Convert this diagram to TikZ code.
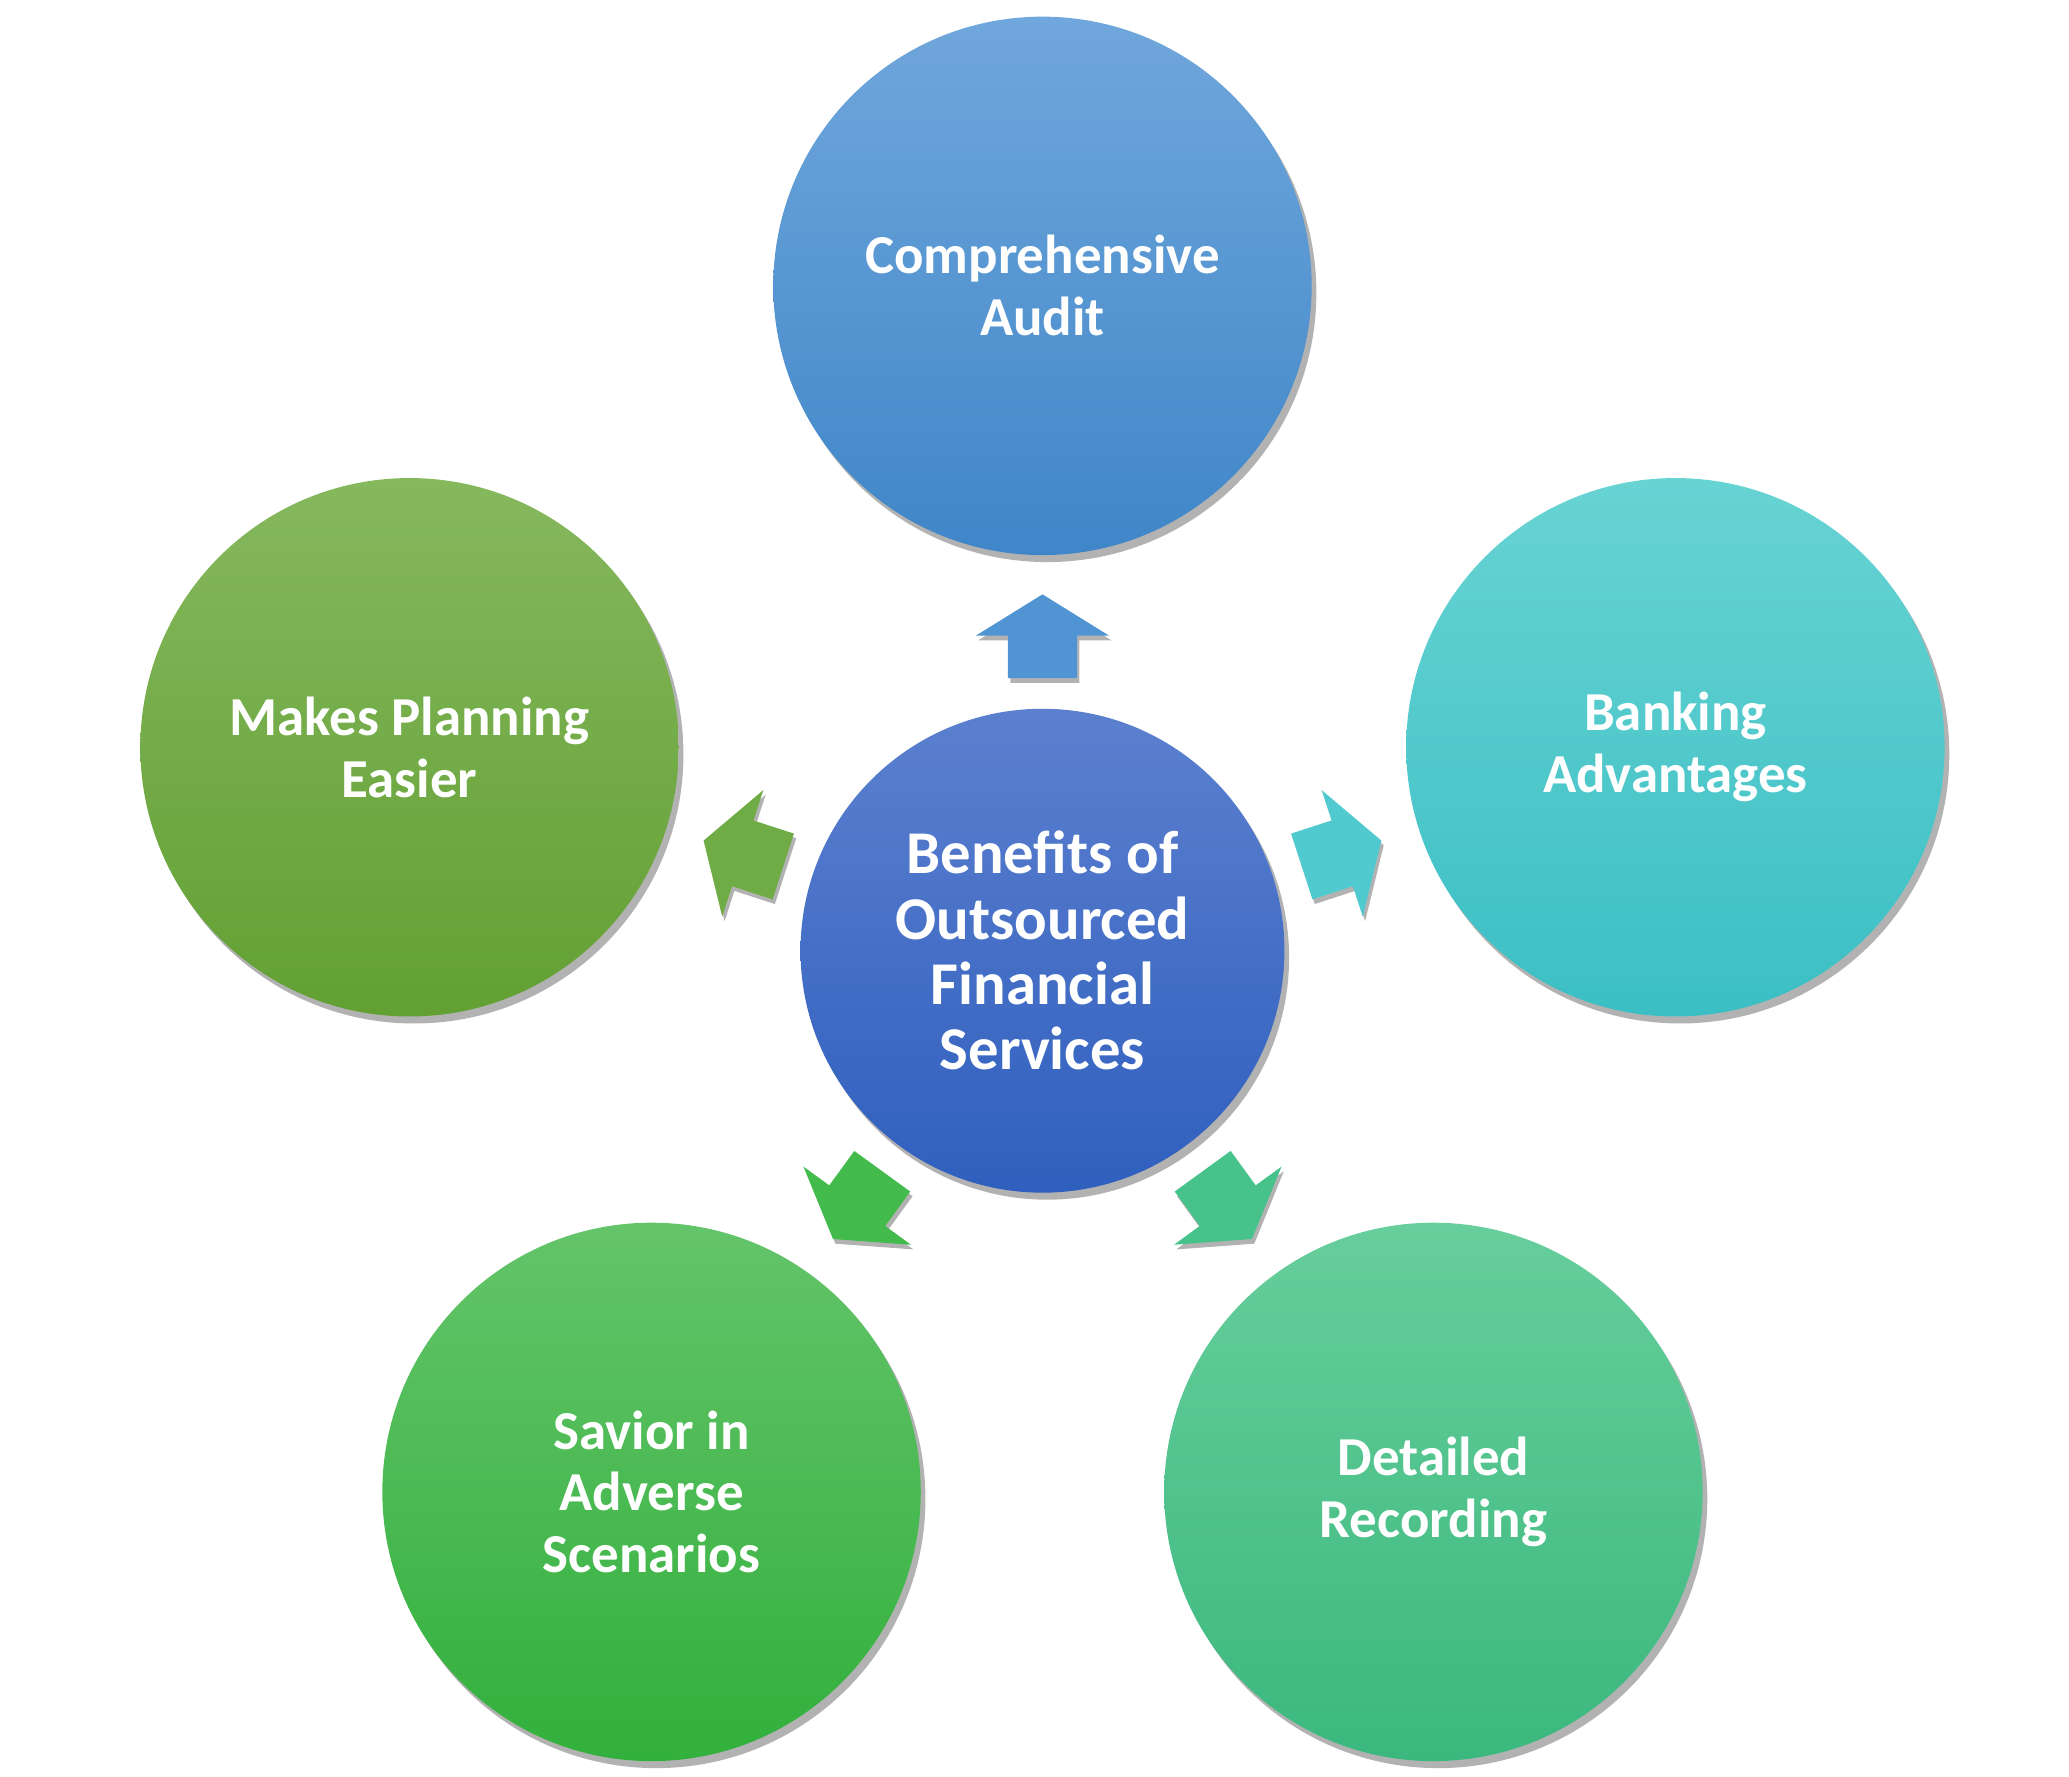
\documentclass[tikz,border=0pt]{standalone}
\usepackage{fontspec}
\setmainfont{Carlito}
\usetikzlibrary{shadows}
\definecolor{auT}{RGB}{112,167,220}\definecolor{auB}{RGB}{63,134,200}
\definecolor{baT}{RGB}{104,211,211}\definecolor{baB}{RGB}{59,191,196}
\definecolor{plT}{RGB}{134,184,94}\definecolor{plB}{RGB}{98,160,51}
\definecolor{svT}{RGB}{100,196,106}\definecolor{svB}{RGB}{50,176,60}
\definecolor{reT}{RGB}{103,206,156}\definecolor{reB}{RGB}{59,184,126}
\definecolor{ceT}{RGB}{92,128,207}\definecolor{ceB}{RGB}{47,95,190}
\definecolor{aA}{RGB}{80,148,212}\definecolor{aB}{RGB}{80,202,206}
\definecolor{aP}{RGB}{112,172,70}\definecolor{aR}{RGB}{70,194,138}
\definecolor{aS}{RGB}{66,186,76}
\begin{document}
\begin{tikzpicture}[x=0.02cm,y=0.02cm,
  bub/.style={circle,minimum size=8.1cm,inner sep=0pt,align=center,text=white,
    font=\bfseries\fontsize{23.5}{26.5}\selectfont,
    drop shadow={shadow xshift=2pt,shadow yshift=-3pt,opacity=0.3,fill=black}}]
\useasboundingbox (0,0) rectangle (1556,1336);
\node[bub,top color=auT,bottom color=auB] (aud) at (784,1121) {Comprehensive\\Audit};
\node[bub,top color=baT,bottom color=baB] (bank) at (1260,774) {Banking\\Advantages};
\node[bub,top color=plT,bottom color=plB] (plan) at (308,774) {Makes Planning\\Easier};
\node[bub,top color=svT,bottom color=svB] (sav) at (490,214) {Savior in\\Adverse\\Scenarios};
\node[bub,top color=reT,bottom color=reB] (rec) at (1078,214) {Detailed\\Recording};
\node[bub,minimum size=7.28cm,font=\bfseries\fontsize{26}{28}\selectfont,top color=ceT,bottom color=ceB] (ctr) at (784,621) {Benefits of\\Outsourced\\Financial\\Services};
\foreach \a/\c in {90/aA,18/aB,162/aP,-54/aR,234/aS}{
  \fill[color=\c,shift={(784,621)},rotate=\a-90,drop shadow={shadow xshift=1pt,shadow yshift=-2pt,opacity=0.3,fill=black}]
   (-26,205)--(26,205)--(26,237)--(50,237)--(0,268)--(-50,237)--(-26,237)--cycle;
}
\end{tikzpicture}
\end{document}
